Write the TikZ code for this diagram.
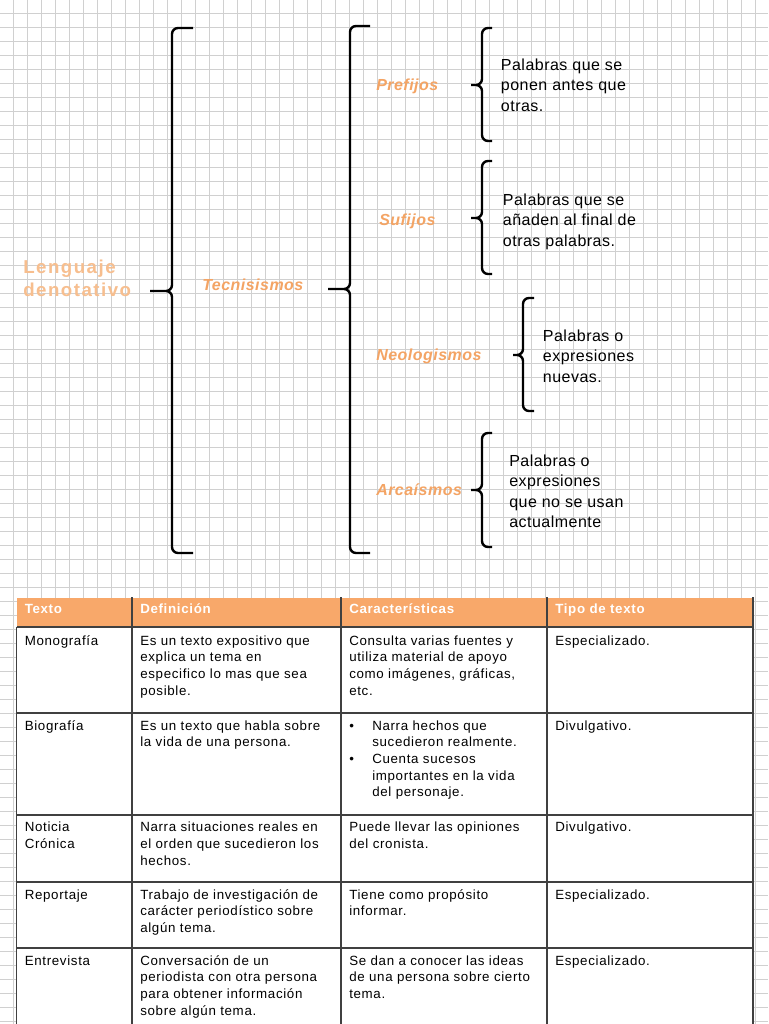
\documentclass[tikz,border=0pt]{standalone}
\usepackage{fontspec}
\setmainfont{Liberation Sans}
\newfontfamily\letradef[LetterSpace=3]{Liberation Sans}
\newfontfamily\letratit[LetterSpace=8]{Liberation Sans Bold}
\newfontfamily\letratab[LetterSpace=5]{Liberation Sans}
\definecolor{naranja}{RGB}{244,164,100}
\definecolor{naranjaclaro}{RGB}{247,190,142}
\definecolor{cabecera}{RGB}{248,168,106}
\definecolor{rejilla}{RGB}{208,208,208}
\definecolor{borde}{RGB}{64,64,64}
\tikzset{
  rejillalinea/.style={draw=rejilla, line width=0.6pt},
  llave/.style={line width=1.8pt, rounded corners=4.5pt},
  tabla/.style={draw=borde, line width=1.1pt},
  concepto/.style={font=\letradef\fontsize{12}{15}\selectfont\bfseries\itshape, text=naranja, inner sep=0pt, anchor=base west},
  definicion/.style={font=\letradef\fontsize{12}{15.4}\selectfont, align=left, inner sep=0pt, anchor=north west},
  celda/.style={font=\letratab\fontsize{10}{12.5}\selectfont, align=left, inner sep=0pt, anchor=north west},
  titulo/.style={font=\letratab\fontsize{10}{12.5}\selectfont\bfseries, text=white, inner sep=0pt, anchor=base west},
}
\begin{document}
\begin{tikzpicture}[x=0.75pt, y=-0.75pt]
    \useasboundingbox (0,0) rectangle (768,1024);
    \fill[white] (0,0) rectangle (768,1024);
    % cuadricula
    \foreach \g in {0,...,54}
        \draw[rejillalinea] ({13.3+14*\g},0) -- ({13.3+14*\g},1024);
    \foreach \g in {0,...,72}
        \draw[rejillalinea] (0,{13.3+14*\g}) -- (768,{13.3+14*\g});

    % conceptos
    \node[font=\letratit\fontsize{14}{16.8}\selectfont, text=naranjaclaro, align=left, inner sep=0pt, anchor=north west] (lengua) at (23,260) {Lenguaje\\denotativo};
    \node[concepto] (tecni) at (202,290) {Tecnisismos};
    \node[concepto] (pre) at (376,90.7) {Prefijos};
    \node[concepto] (suf) at (379,225) {Sufijos};
    \node[concepto] (neo) at (376,360) {Neologismos};
    \node[concepto] (arc) at (376,495) {Arcaísmos};

    % definiciones
    \node[definicion] (dpre) at (500.7,58.2) {Palabras que se\\ponen antes que\\otras.};
    \node[definicion] (dsuf) at (502.7,193.2) {Palabras que se\\añaden al final de\\otras palabras.};
    \node[definicion] (dneo) at (542.7,329.2) {Palabras o\\expresiones\\nuevas.};
    \node[definicion] (darc) at (509,454.2) {Palabras o\\expresiones\\que no se usan\\actualmente};

    % llaves
    \draw[llave] (193,28) -- (172,28) -- (172,291) -- (150,291) (150,291) -- (172,291) -- (172,553) -- (193,553);
    \draw[llave] (370,26) -- (350,26) -- (350,289) -- (328,289) (328,289) -- (350,289) -- (350,553) -- (370,553);
    \draw[llave] (492,28) -- (482,28) -- (482,85) -- (471,85) (471,85) -- (482,85) -- (482,141) -- (492,141);
    \draw[llave] (492,161) -- (482,161) -- (482,218) -- (471,218) (471,218) -- (482,218) -- (482,274) -- (492,274);
    \draw[llave] (534,298) -- (523,298) -- (523,355) -- (513,355) (513,355) -- (523,355) -- (523,411) -- (534,411);
    \draw[llave] (492,433) -- (482,433) -- (482,490) -- (471,490) (471,490) -- (482,490) -- (482,547) -- (492,547);

    % tabla
    \fill[white] (16.5,598) rectangle (753,1024);
    \fill[cabecera] (16.5,598) rectangle (753,627);
    \foreach \ty in {627,713,815,882,948}
        \draw[tabla] (16.5,\ty) -- (753,\ty);
    \draw[tabla] (16.5,627) -- (16.5,1024);
    \foreach \tx in {132,341,547,753}
        \draw[tabla] (\tx,597) -- (\tx,1024);

    \node[titulo] (h1) at (24.5,613.8) {Texto};
    \node[titulo] (h2) at (140,613.8) {Definición};
    \node[titulo] (h3) at (349,613.8) {Características};
    \node[titulo] (h4) at (555,613.8) {Tipo de texto};

    \node[celda] (a1) at (24.5,635.2) {Monografía};
    \node[celda] (a2) at (140,635.2) {Es un texto expositivo que\\explica un tema en\\especifico lo mas que sea\\posible.};
    \node[celda] (a3) at (349,635.2) {Consulta varias fuentes y\\utiliza material de apoyo\\como imágenes, gráficas,\\etc.};
    \node[celda] (a4) at (555,635.2) {Especializado.};

    \node[celda] (b1) at (24.5,720.2) {Biografía};
    \node[celda] (b2) at (140,720.2) {Es un texto que habla sobre\\la vida de una persona.};
    \node[celda] (b3) at (349,720.2) {\makebox[17.25pt][l]{•}Narra hechos que\\\hspace*{17.25pt}sucedieron realmente.\\\makebox[17.25pt][l]{•}Cuenta sucesos\\\hspace*{17.25pt}importantes en la vida\\\hspace*{17.25pt}del personaje.};
    \node[celda] (b4) at (555,720.2) {Divulgativo.};

    \node[celda] (c1) at (24.5,821.9) {Noticia\\Crónica};
    \node[celda] (c2) at (140,821.9) {Narra situaciones reales en\\el orden que sucedieron los\\hechos.};
    \node[celda] (c3) at (349,821.9) {Puede llevar las opiniones\\del cronista.};
    \node[celda] (c4) at (555,821.9) {Divulgativo.};

    \node[celda] (d1) at (24.5,889.2) {Reportaje};
    \node[celda] (d2) at (140,889.2) {Trabajo de investigación de\\carácter periodístico sobre\\algún tema.};
    \node[celda] (d3) at (349,889.2) {Tiene como propósito\\informar.};
    \node[celda] (d4) at (555,889.2) {Especializado.};

    \node[celda] (e1) at (24.5,955.2) {Entrevista};
    \node[celda] (e2) at (140,955.2) {Conversación de un\\periodista con otra persona\\para obtener información\\sobre algún tema.};
    \node[celda] (e3) at (349,955.2) {Se dan a conocer las ideas\\de una persona sobre cierto\\tema.};
    \node[celda] (e4) at (555,955.2) {Especializado.};
\end{tikzpicture}
\end{document}
